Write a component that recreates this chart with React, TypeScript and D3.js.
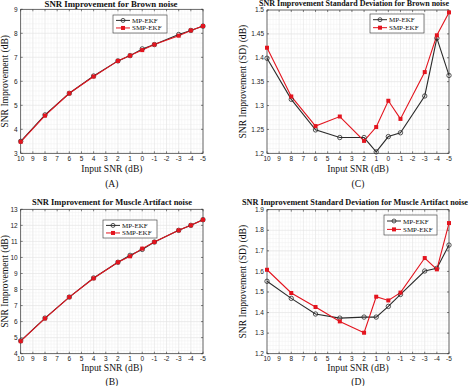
import React from "react";
import * as d3 from "d3";

// input SNR values where points were measured
const inputSnr = [10, 8, 6, 4, 2, 1, 0, -1, -3, -4, -5];
const xTicks = [10, 9, 8, 7, 6, 5, 4, 3, 2, 1, 0, -1, -2, -3, -4, -5];

// (A) SNR improvement, brown noise
const brownMp = [3.5, 4.6, 5.5, 6.22, 6.85, 7.07, 7.35, 7.53, 7.95, 8.12, 8.3];
const brownSmp = [3.48, 4.57, 5.5, 6.2, 6.85, 7.07, 7.3, 7.53, 7.9, 8.12, 8.3];

// (C) SNR improvement SD, brown noise
const brownSdMp = [1.399, 1.313, 1.249, 1.233, 1.233, 1.203, 1.235, 1.243, 1.32, 1.441, 1.363];
const brownSdSmp = [1.421, 1.319, 1.257, 1.277, 1.226, 1.255, 1.31, 1.272, 1.37, 1.447, 1.495];

// (B) SNR improvement, muscle artifact noise
const muscleMp = [4.8, 6.22, 7.53, 8.72, 9.7, 10.13, 10.5, 10.96, 11.69, 12.0, 12.35];
const muscleSmp = [4.78, 6.2, 7.53, 8.7, 9.7, 10.07, 10.55, 10.96, 11.69, 12.0, 12.35];

// (D) SNR improvement SD, muscle artifact noise
const muscleSdMp = [1.552, 1.469, 1.393, 1.373, 1.378, 1.378, 1.43, 1.488, 1.602, 1.615, 1.728];
const muscleSdSmp = [1.608, 1.495, 1.427, 1.357, 1.302, 1.477, 1.459, 1.497, 1.665, 1.61, 1.835];

const MP_COLOR = "#2b2b2b";
const SMP_COLOR = "#e3141e";
const serif = "'Liberation Serif', 'Times New Roman', serif";
const sans = "'Liberation Sans', Arial, sans-serif";

type PanelProps = {
  x0: number; x1: number; y0: number; y1: number;
  yDomain: [number, number];
  yTicks: number[];
  yMinor: number;
  yFmt: (v: number) => string;
  mp: number[]; smp: number[];
  title: string; titleX: number; titleY: number; titleW: number;
  yLabel: string; yLabelX: number;
  xLabelY: number; tag: string; tagY: number;
  legend: { x: number; y: number; w: number; h: number };
};

const Panel = (p: PanelProps) => {
  const x = d3.scaleLinear().domain([10, -5]).range([p.x0, p.x1]);
  const y = d3.scaleLinear().domain(p.yDomain).range([p.y1, p.y0]);
  const line = d3.line<number>().x((_, i) => x(inputSnr[i])).y((d) => y(d));
  const xMinor = d3.range(-5, 10, 0.25);
  const yMinor = d3.range(p.yDomain[0], p.yDomain[1], p.yMinor);
  const cx = (p.x0 + p.x1) / 2;
  const lg = p.legend;
  return (
    <g>
      <rect x={p.x0} y={p.y0} width={p.x1 - p.x0} height={p.y1 - p.y0} fill="#fff" />
      {xMinor.map((v) => (
        <line key={"xm" + v} x1={x(v)} x2={x(v)} y1={p.y0} y2={p.y1} stroke="#f1f1f1" strokeWidth={0.5} />
      ))}
      {yMinor.map((v) => (
        <line key={"ym" + v} x1={p.x0} x2={p.x1} y1={y(v)} y2={y(v)} stroke="#f1f1f1" strokeWidth={0.5} />
      ))}
      {xTicks.map((v) => (
        <line key={"xg" + v} x1={x(v)} x2={x(v)} y1={p.y0} y2={p.y1} stroke="#e2e2e2" strokeWidth={0.5} />
      ))}
      {p.yTicks.map((v) => (
        <line key={"yg" + v} x1={p.x0} x2={p.x1} y1={y(v)} y2={y(v)} stroke="#e2e2e2" strokeWidth={0.5} />
      ))}
      {xTicks.map((v) => (
        <g key={"xt" + v}>
          <line x1={x(v)} x2={x(v)} y1={p.y1} y2={p.y1 - 2} stroke="#333" strokeWidth={0.6} />
          <line x1={x(v)} x2={x(v)} y1={p.y0} y2={p.y0 + 2} stroke="#333" strokeWidth={0.6} />
          <text x={x(v)} y={p.y1 + 7.5} fontSize={6.5} fontFamily={sans} textAnchor="middle" fill="#222">
            {v}
          </text>
        </g>
      ))}
      {p.yTicks.map((v) => (
        <g key={"yt" + v}>
          <line x1={p.x0} x2={p.x0 + 2} y1={y(v)} y2={y(v)} stroke="#333" strokeWidth={0.6} />
          <line x1={p.x1} x2={p.x1 - 2} y1={y(v)} y2={y(v)} stroke="#333" strokeWidth={0.6} />
          <text x={p.x0 - 3} y={y(v) + 2.2} fontSize={6.5} fontFamily={sans} textAnchor="end" fill="#222">
            {p.yFmt(v)}
          </text>
        </g>
      ))}
      <rect x={p.x0} y={p.y0} width={p.x1 - p.x0} height={p.y1 - p.y0} fill="none" stroke="#333" strokeWidth={0.7} />

      <path d={line(p.mp) || ""} fill="none" stroke={MP_COLOR} strokeWidth={1.1} />
      <path d={line(p.smp) || ""} fill="none" stroke={SMP_COLOR} strokeWidth={1.1} />
      {p.mp.map((d, i) => (
        <circle key={"m" + i} cx={x(inputSnr[i])} cy={y(d)} r={2.2} fill="none" stroke={MP_COLOR} strokeWidth={0.8} />
      ))}
      {p.smp.map((d, i) => (
        <rect key={"s" + i} x={x(inputSnr[i]) - 2} y={y(d) - 2} width={4} height={4} fill={SMP_COLOR} />
      ))}

      <rect x={lg.x} y={lg.y} width={lg.w} height={lg.h} fill="#fff" stroke="#333" strokeWidth={0.6} />
      <line x1={lg.x + 3} x2={lg.x + 17} y1={lg.y + lg.h * 0.3} y2={lg.y + lg.h * 0.3} stroke={MP_COLOR} strokeWidth={1} />
      <circle cx={lg.x + 10} cy={lg.y + lg.h * 0.3} r={2} fill="none" stroke={MP_COLOR} strokeWidth={0.8} />
      <text x={lg.x + 19} y={lg.y + lg.h * 0.3 + 2.5} fontSize={7} fontFamily={serif} fill="#111">MP-EKF</text>
      <line x1={lg.x + 3} x2={lg.x + 17} y1={lg.y + lg.h * 0.72} y2={lg.y + lg.h * 0.72} stroke={SMP_COLOR} strokeWidth={1} />
      <rect x={lg.x + 8} y={lg.y + lg.h * 0.72 - 2} width={4} height={4} fill={SMP_COLOR} />
      <text x={lg.x + 19} y={lg.y + lg.h * 0.72 + 2.5} fontSize={7} fontFamily={serif} fill="#111">SMP-EKF</text>

      <text
        x={p.titleX}
        y={p.titleY}
        fontSize={9}
        fontWeight="bold"
        fontFamily={serif}
        textAnchor="middle"
        textLength={p.titleW}
        lengthAdjust="spacingAndGlyphs"
        fill="#111"
      >
        {p.title}
      </text>
      <text
        transform={`translate(${p.yLabelX},${(p.y0 + p.y1) / 2}) rotate(-90)`}
        fontSize={9.6}
        fontFamily={serif}
        textAnchor="middle"
        fill="#111"
      >
        {p.yLabel}
      </text>
      <text x={cx} y={p.xLabelY} fontSize={9.6} fontFamily={serif} textAnchor="middle" fill="#111">
        Input SNR (dB)
      </text>
      <text x={cx} y={p.tagY} fontSize={9.6} fontFamily={serif} textAnchor="middle" fill="#111">
        {p.tag}
      </text>
    </g>
  );
};

const f0 = (v: number) => d3.format("d")(v);
const f2 = (v: number) => String(+v.toFixed(2));

export default function App() {
  return (
    <svg width={474} height={386} style={{ position: "absolute", left: 0, top: 0, background: "#fff" }}>
      <Panel
        x0={20.7} x1={203} y0={9.3} y1={153.3}
        yDomain={[3, 9]} yTicks={d3.range(3, 10, 1)} yMinor={0.2} yFmt={f0}
        mp={brownMp} smp={brownSmp}
        title="SNR Improvement for Brown noise" titleX={111} titleY={6.5} titleW={133}
        yLabel="SNR Improvement (dB)" yLabelX={8}
        xLabelY={171.5} tag="(A)" tagY={186.5}
        legend={{ x: 113, y: 15, w: 54, h: 18 }}
      />
      <Panel
        x0={267} x1={449} y0={10} y1={153.3}
        yDomain={[1.2, 1.5]} yTicks={d3.range(1.2, 1.5001, 0.05)} yMinor={0.01} yFmt={f2}
        mp={brownSdMp} smp={brownSdSmp}
        title="SNR Improvement Standard Deviation for Brown noise" titleX={354} titleY={6} titleW={190}
        yLabel="SNR Improvement (SD) (dB)" yLabelX={246}
        xLabelY={171.5} tag="(C)" tagY={186.5}
        legend={{ x: 370, y: 14, w: 54, h: 19 }}
      />
      <Panel
        x0={20.7} x1={203} y0={209.3} y1={353.7}
        yDomain={[4, 13]} yTicks={d3.range(4, 14, 1)} yMinor={0.2} yFmt={f0}
        mp={muscleMp} smp={muscleSmp}
        title="SNR Improvement for Muscle Artifact noise" titleX={112} titleY={205} titleW={160}
        yLabel="SNR Improvement (dB)" yLabelX={8}
        xLabelY={370.5} tag="(B)" tagY={384.5}
        legend={{ x: 103, y: 220, w: 54, h: 18 }}
      />
      <Panel
        x0={267} x1={449} y0={209.7} y1={353.7}
        yDomain={[1.2, 1.9]} yTicks={d3.range(1.2, 1.9001, 0.1)} yMinor={0.02} yFmt={f2}
        mp={muscleSdMp} smp={muscleSdSmp}
        title="SNR Improvement Standard Deviation for Muscle Artifact noise" titleX={355} titleY={205} titleW={226}
        yLabel="SNR Improvement (SD) (dB)" yLabelX={246}
        xLabelY={370.5} tag="(D)" tagY={384.5}
        legend={{ x: 384, y: 215, w: 53, h: 20 }}
      />
    </svg>
  );
}
